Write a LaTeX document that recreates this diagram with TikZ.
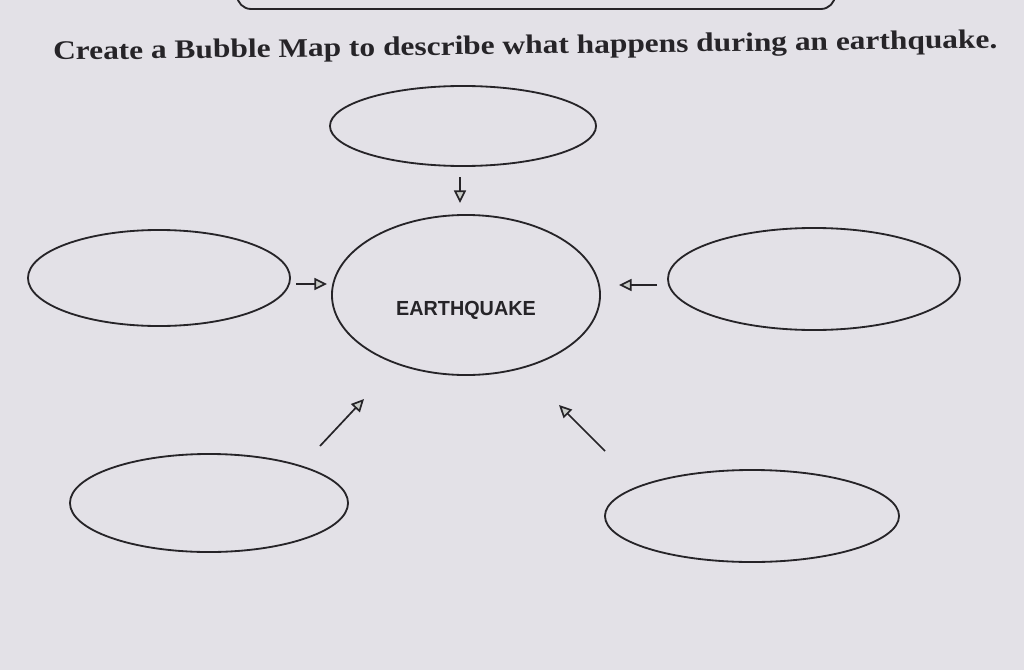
\documentclass[tikz,border=0pt]{standalone}
\usepackage{fontspec}
\setmainfont{Liberation Serif}
\setsansfont{Liberation Sans}
\usetikzlibrary{shapes.geometric,arrows.meta}
\definecolor{paper}{HTML}{E3E1E7}
\definecolor{ink}{HTML}{262428}
\definecolor{tipfill}{HTML}{C9CCC8}
\begin{document}
\begin{tikzpicture}[x=0.025cm,y=-0.025cm,
  bubble/.style={draw=ink,line width=1.3pt,ellipse,inner sep=0pt},
  link/.style={draw=ink,line width=1.2pt,-{Triangle[length=9pt,width=8.5pt,fill=tipfill]}}]
\fill[paper] (0,0) rectangle (1024,670);
\useasboundingbox (0,0) rectangle (1024,670);
% top partial box
\draw[ink,line width=1.3pt,rounded corners=10pt] (237,-30) rectangle (835,9);
% title
\node[anchor=base west,rotate=0.73,font=\bfseries\fontsize{19}{22}\selectfont,text=ink,inner sep=0pt] (title) at (53,60)
  {\resizebox{23.6cm}{\height}{Create a Bubble Map to describe what happens during an earthquake.}};
% bubbles
\node[bubble,minimum width=6.65cm,minimum height=2.0cm] (top) at (463,126) {};
\node[bubble,minimum width=6.7cm,minimum height=4.0cm] (center) at (466,295) {};
\node[font=\sffamily\bfseries\fontsize{14.5}{16}\selectfont,text=ink] (label) at (466,310) {\scalebox{0.97}[1]{EARTHQUAKE}};
\node[bubble,minimum width=6.55cm,minimum height=2.4cm] (left) at (159,278) {};
\node[bubble,minimum width=7.3cm,minimum height=2.55cm] (right) at (814,279) {};
\node[bubble,minimum width=6.95cm,minimum height=2.45cm] (bl) at (209,503) {};
\node[bubble,minimum width=7.35cm,minimum height=2.3cm] (br) at (752,516) {};
% arrow end points
\coordinate (t1) at (460,177); \coordinate (t2) at (460,203);
\coordinate (l1) at (296,284); \coordinate (l2) at (327,284);
\coordinate (r1) at (657,285); \coordinate (r2) at (619,285);
\coordinate (bl1) at (320,446); \coordinate (bl2) at (364,399);
\coordinate (br1) at (605,451); \coordinate (br2) at (559,405);
\draw[link] (t1) -- (t2);
\draw[link] (l1) -- (l2);
\draw[link] (r1) -- (r2);
\draw[link] (bl1) -- (bl2);
\draw[link] (br1) -- (br2);
\end{tikzpicture}
\end{document}
